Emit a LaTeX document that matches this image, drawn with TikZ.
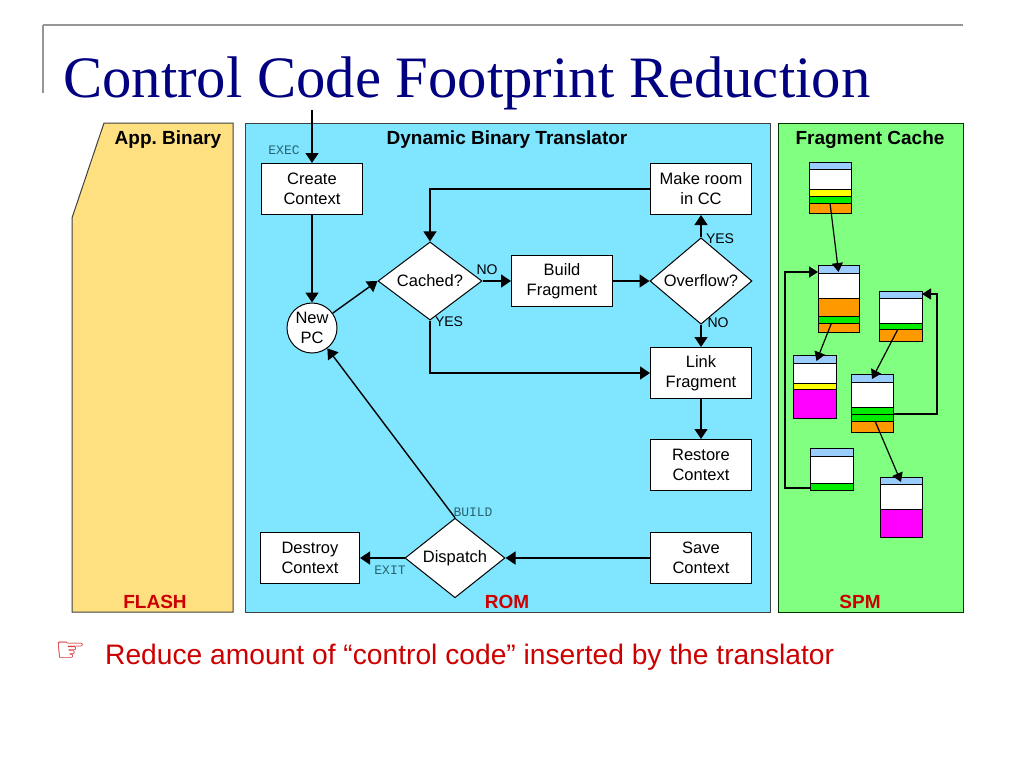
\documentclass[tikz,border=0pt]{standalone}
\usepackage{fontspec}
\setmainfont{Liberation Sans}
\newfontfamily\titlefont{Liberation Serif}
\newfontfamily\monofont{Liberation Mono}
\newfontfamily\symfont{DejaVu Sans}
\usetikzlibrary{shapes.geometric,arrows.meta,calc}
\definecolor{flashY}{RGB}{255,224,128}
\definecolor{romC}{RGB}{128,229,255}
\definecolor{spmG}{RGB}{128,255,128}
\definecolor{navy}{RGB}{0,0,128}
\definecolor{lblred}{RGB}{204,0,0}
\definecolor{tealtxt}{RGB}{40,100,110}
\definecolor{bandblue}{RGB}{153,204,255}
\definecolor{bandgreen}{RGB}{0,235,0}
\definecolor{bandorange}{RGB}{255,153,0}
\definecolor{bandyellow}{RGB}{255,255,0}
\definecolor{bandmag}{RGB}{255,0,255}
\definecolor{rulegray}{RGB}{150,150,150}
\newcommand\fcband[5]{\filldraw[fill=#1,draw=black,line width=0.8pt] (#2,#3) rectangle (#4,#5);}
\frenchspacing
\begin{document}
\begin{tikzpicture}[x=1pt,y=-1pt,
  panel/.style={draw=black!75,line width=1pt},
  ptitle/.style={font=\bfseries\fontsize{19}{19}\selectfont,inner sep=0},
  plabel/.style={font=\bfseries\fontsize{19}{19}\selectfont,text=lblred,inner sep=0},
  box/.style={draw=black,fill=white,line width=1pt,minimum width=101pt,minimum height=51pt,align=center,font=\fontsize{16.5}{20}\selectfont,inner sep=0},
  dia/.style={diamond,draw=black,fill=white,line width=1pt,minimum width=104pt,minimum height=70pt,inner sep=0,font=\fontsize{16.5}{20}\selectfont},
  circ/.style={circle,draw=black,fill=white,line width=1pt,minimum size=50pt,inner sep=0,align=center,font=\fontsize{16.5}{20}\selectfont},
  arr/.style={line width=1.4pt,-{Triangle[length=10pt,width=13pt]}},
  sarr/.style={line width=1.2pt,-{Triangle[length=9pt,width=11pt]}},
  lbl/.style={font=\fontsize{14}{14}\selectfont,inner sep=0},
  mono/.style={font=\monofont\fontsize{13}{13}\selectfont,text=tealtxt,inner sep=0},
  fcblk/.style={draw=black,line width=0.8pt,minimum width=42pt,inner sep=0,outer sep=0}
]
\useasboundingbox (0,0) rectangle (1024,768);
\fill[white] (0,0) rectangle (1024,768);
% title rules
\draw[rulegray,line width=2pt] (43,25) -- (963,25);
\draw[rulegray,line width=1.5pt] (43,25) -- (43,93);
\node[anchor=base west,inner sep=0,text=navy,font=\titlefont\fontsize{58.7}{59}\selectfont] (title) at (63,97) {Control Code Footprint Reduction};
% panels
\draw[panel,fill=flashY] (104,123) -- (233,123) -- (233,612) -- (72,612) -- (72,218) -- cycle;
\draw[panel,fill=romC] (245,123) rectangle (770,612);
\draw[panel,fill=spmG,draw=black!60!green!50!black] (778,123) rectangle (963,612);
\node[ptitle] (t1) at (168,140) {App. Binary};
\node[ptitle] (t2) at (507,140) {Dynamic Binary Translator};
\node[ptitle] (t3) at (870,140) {Fragment Cache};
\node[plabel] (l1) at (155,602) {FLASH};
\node[plabel] (l2) at (507,602) {ROM};
\node[plabel] (l3) at (860,602) {SPM};
% flow nodes
\node[box] (create) at (312,189) {Create\\Context};
\node[circ] (newpc) at (312,328) {New\\PC};
\node[dia] (cached) at (430,281) {Cached?};
\node[box] (build) at (562,281) {Build\\Fragment};
\node[dia,minimum width=102pt] (overflow) at (701,281) {Overflow?};
\node[box] (make) at (701,189) {Make room\\in CC};
\node[box] (link) at (701,373) {Link\\Fragment};
\node[box] (restore) at (701,465) {Restore\\Context};
\node[box] (save) at (701,558) {Save\\Context};
\node[dia,minimum width=100pt,minimum height=71pt] (dispatch) at (455,558) {Dispatch};
\node[box,minimum width=99pt] (destroy) at (310,558) {Destroy\\Context};
\coordinate (entry) at (312,110);
% connectors
\draw[arr] (entry) -- (create.north);
\node[mono] (exec) at (284,150) {EXEC};
\draw[arr] (create) -- (newpc);
\draw[arr] (newpc) -- (cached.west);
\draw[arr] (cached.east) -- (build.west);
\node[lbl] (no1) at (487,270) {NO};
\draw[arr] (build.east) -- (overflow.west);
\draw[arr] (overflow.north) -- (make.south);
\node[lbl] (yes1) at (720,239) {YES};
\draw[arr] (overflow.south) -- (link.north);
\node[lbl] (no2) at (718,323) {NO};
\draw[arr] (make.west) -| (cached.north);
\draw[arr] (cached.south) |- (link.west);
\node[lbl] (yes2) at (449,322) {YES};
\draw[arr] (link) -- (restore);
\draw[arr] (save.west) -- (dispatch.east);
\draw[arr] (dispatch.west) -- (destroy.east);
\node[mono] (exit) at (390,570) {EXIT};
\draw[arr] (dispatch.north) -- (newpc);
\node[mono] (buildl) at (473,512) {BUILD};
% fragment cache blocks
% A
\fcband{bandblue}{809}{162}{851}{169}
\fcband{white}{809}{169}{851}{189}
\fcband{bandyellow}{809}{189}{851}{196}
\fcband{bandgreen}{809}{196}{851}{203}
\fcband{bandorange}{809}{203}{851}{213}
\node[fcblk,minimum height=51pt] (fcA) at (830,187.5) {};
% B
\fcband{bandblue}{818}{265}{859}{273}
\fcband{white}{818}{273}{859}{298}
\fcband{bandorange}{818}{298}{859}{316}
\fcband{bandgreen}{818}{316}{859}{323}
\fcband{bandorange}{818}{323}{859}{332}
\node[fcblk,minimum width=41pt,minimum height=67pt] (fcB) at (838.5,298.5) {};
% C
\fcband{bandblue}{879}{291}{922}{298}
\fcband{white}{879}{298}{922}{323}
\fcband{bandgreen}{879}{323}{922}{329}
\fcband{bandorange}{879}{329}{922}{341}
\node[fcblk,minimum width=43pt,minimum height=50pt] (fcC) at (900.5,316) {};
% D
\fcband{bandblue}{793}{355}{836}{363}
\fcband{white}{793}{363}{836}{383}
\fcband{bandyellow}{793}{383}{836}{389}
\fcband{bandmag}{793}{389}{836}{418}
\node[fcblk,minimum width=43pt,minimum height=63pt] (fcD) at (814.5,386.5) {};
% E
\fcband{bandblue}{851}{374}{893}{382}
\fcband{white}{851}{382}{893}{407}
\fcband{bandgreen}{851}{407}{893}{414}
\fcband{bandgreen}{851}{414}{893}{421}
\fcband{bandorange}{851}{421}{893}{432}
\node[fcblk,minimum height=58pt] (fcE) at (872,403) {};
% F
\fcband{bandblue}{810}{448}{853}{456}
\fcband{white}{810}{456}{853}{483}
\fcband{bandgreen}{810}{483}{853}{490}
\node[fcblk,minimum width=43pt,minimum height=42pt] (fcF) at (831.5,469) {};
% G
\fcband{bandblue}{880}{477}{922}{484}
\fcband{white}{880}{484}{922}{509}
\fcband{bandmag}{880}{509}{922}{537}
\node[fcblk,minimum height=60pt] (fcG) at (901,507) {};
% cache arrows
\draw[sarr] ([yshift=10pt]fcA.south) -- ([yshift=-7pt]fcB.north);
\draw[sarr] ([xshift=-7pt,yshift=9pt]fcB.south) -- ([xshift=2pt,yshift=-6pt]fcD.north);
\draw[sarr] ([xshift=-3pt,yshift=11pt]fcC.south) -- ([yshift=-5pt]fcE.north);
\draw[sarr] ([xshift=3pt,yshift=11pt]fcE.south) -- ([yshift=-5pt]fcG.north);
\draw[sarr] ([yshift=2pt]fcF.south west) -- ++(-25,0) |- ([yshift=-7pt]fcB.north west);
\draw[sarr] ([yshift=18pt]fcE.south east) -- ++(44,0) |- ([yshift=-3pt]fcC.north east);
% bottom bullet
\node[text=lblred,font=\symfont\fontsize{34}{34}\selectfont,inner sep=0] (hand) at (71,652) {☞};
\node[anchor=base west,inner sep=0,text=lblred,font=\fontsize{28.2}{28}\selectfont] (bullet) at (105,664) {Reduce amount of “control code” inserted by the translator};
\end{tikzpicture}
\end{document}
